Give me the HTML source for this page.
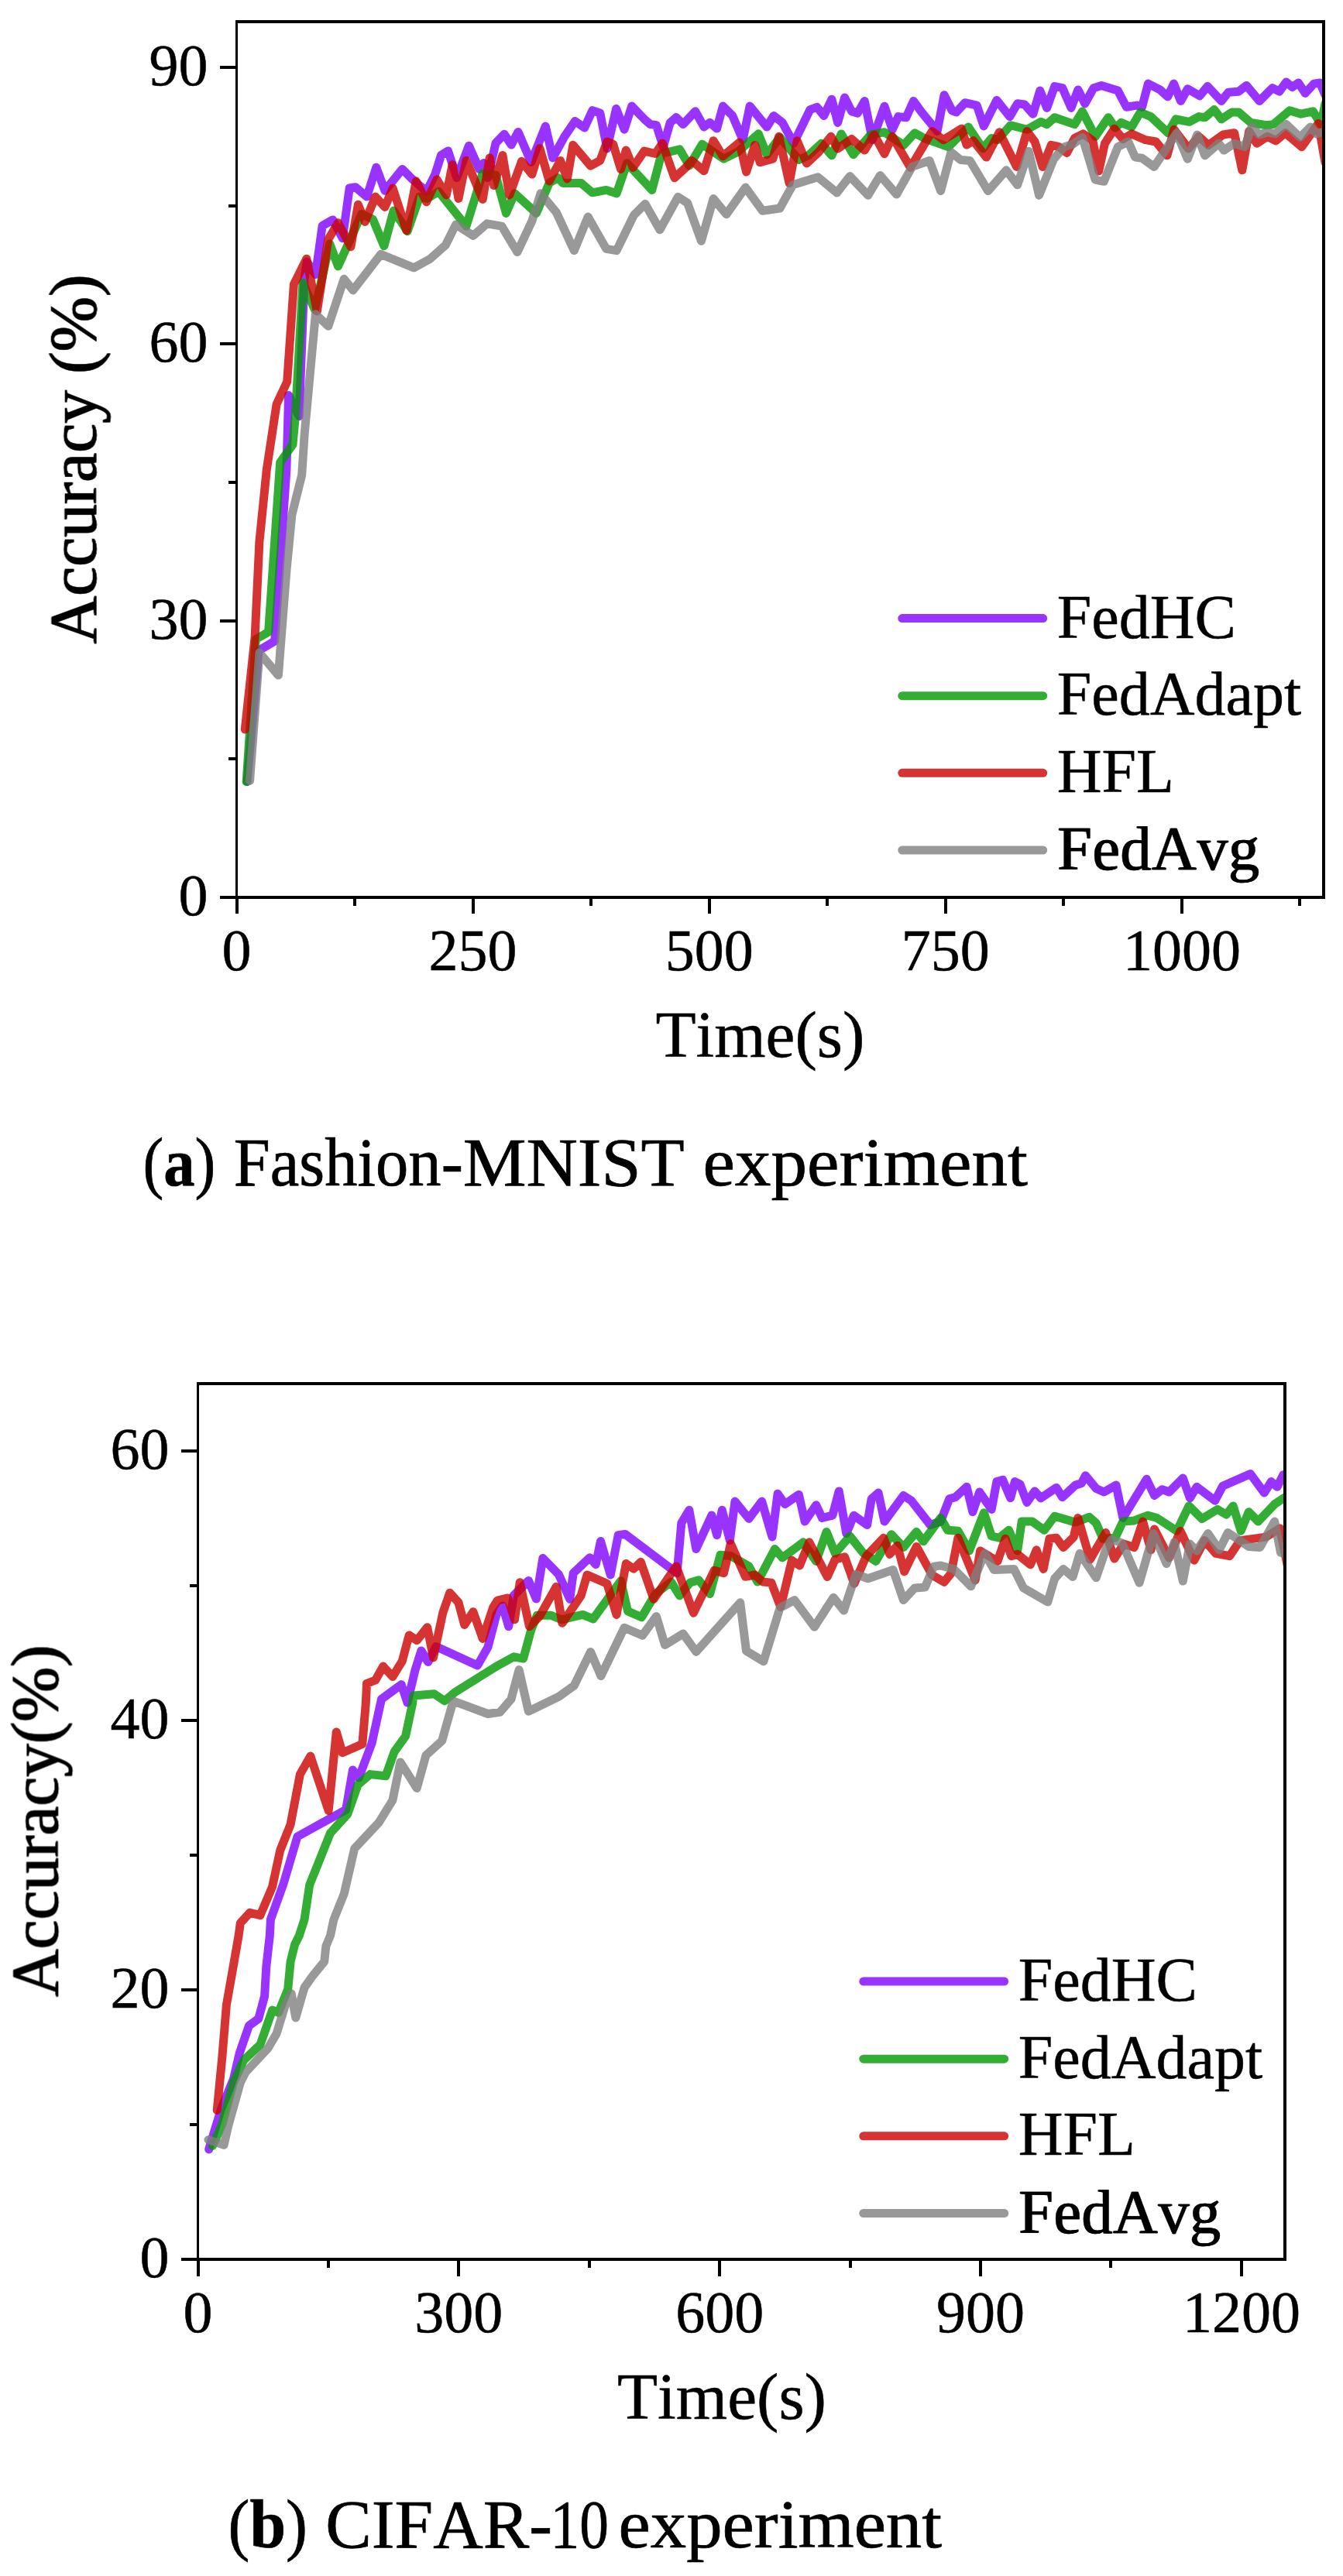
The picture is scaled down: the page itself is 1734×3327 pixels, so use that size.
<!DOCTYPE html>
<html lang="en"><head><meta charset="utf-8"><title>Accuracy over time</title>
<style>html,body{margin:0;padding:0;background:#fff}svg{display:block}text{font-family:"Liberation Serif",serif;fill:#000;font-kerning:none}.tk{font-size:76px;stroke:#000;stroke-width:.5px}.lg{font-size:80px;stroke:#000;stroke-width:.5px}.ax{font-size:85px;stroke:#000;stroke-width:.5px}.yl{font-size:87.5px;stroke:#000;stroke-width:.5px;filter:drop-shadow(1.8px 0 0 #000)}.lg.fb{filter:drop-shadow(1.7px 0 0 #000);letter-spacing:.6px}.cap{font-size:88px;stroke:#000;stroke-width:.7px}.ln{fill:none;stroke-width:11;stroke-linejoin:round;stroke-linecap:round;stroke-opacity:.8}.lgl{fill:none;stroke-width:11;stroke-linecap:round;stroke-opacity:.8}.fr{fill:none;stroke:#000;stroke-width:4}</style></head><body>
<svg width="1734" height="3327" viewBox="0 0 1734 3327">
<rect width="1734" height="3327" fill="#fff"/>
<defs><clipPath id="cp1"><rect x="305.5" y="28" width="1403.5" height="1131"/></clipPath></defs>
<g clip-path="url(#cp1)">
<polyline class="ln" stroke="#8000ff" points="319.1,1009.5 334.0,840.2 354.7,827.9 369.9,606.6 372.6,510.4 386.2,537.5 392.9,361.3 396.2,338.1 407.4,354.5 416.2,291.6 429.7,283.9 442.3,307.7 451.2,243.0 459.0,241.8 473.6,254.1 485.8,216.2 497.0,246.3 519.4,218.4 532.8,231.8 550.6,247.4 561.8,225.1 569.6,200.5 578.5,194.9 589.7,229.6 605.4,188.2 618.8,218.4 624.3,210.6 629.9,229.6 640.0,184.9 651.1,173.3 660.1,187.1 669.0,170.4 685.8,209.5 704.3,163.0 713.7,203.9 729.0,176.2 742.4,156.5 754.7,165.0 764.8,142.7 774.8,146.0 783.8,191.8 795.6,140.4 806.1,167.2 815.7,137.1 831.8,153.8 839.6,160.5 847.4,161.6 856.4,189.6 865.3,158.3 873.1,151.6 882.1,160.5 897.7,143.8 908.9,163.9 916.7,158.3 925.6,166.1 933.4,137.1 945.7,149.4 959.1,180.6 968.1,137.1 990.1,164.0 999.0,149.5 1010.2,158.4 1024.7,185.2 1045.9,141.6 1054.9,138.3 1063.8,149.5 1073.9,128.2 1081.7,158.4 1090.6,126.0 1099.6,143.9 1107.4,146.1 1116.3,130.5 1126.4,180.7 1142.0,137.2 1152.1,167.3 1159.9,150.6 1169.9,151.7 1179.5,130.5 1190.0,145.0 1210.1,169.6 1219.1,122.7 1229.1,142.8 1234.7,145.0 1245.9,132.7 1261.2,136.1 1270.2,162.9 1286.9,129.4 1303.7,150.6 1313.7,133.8 1322.7,134.9 1333.8,147.2 1342.8,117.1 1351.7,139.4 1361.7,111.5 1371.8,113.7 1383.0,139.4 1391.9,115.9 1400.8,133.8 1412.0,113.7 1422.1,110.4 1443.3,117.1 1454.4,138.3 1467.8,136.1 1474.5,138.3 1482.4,108.1 1497.7,115.9 1507.7,124.9 1515.5,108.1 1524.5,130.5 1533.4,114.8 1549.0,123.8 1559.1,111.5 1577.0,130.5 1585.9,119.3 1599.3,118.2 1609.4,110.4 1626.1,130.5 1642.9,113.7 1651.8,118.2 1660.7,105.9 1668.5,112.6 1676.4,107.0 1685.3,120.4 1696.5,108.1 1704.3,107.0 1711.0,122.7"/>
<polyline class="ln" stroke="#009900" points="318.2,1009.5 330.3,825.5 346.6,816.2 361.7,597.3 378.0,574.0 381.3,537.5 391.0,365.2 406.5,400.0 425.8,314.8 436.5,343.9 466.9,276.5 481.4,283.2 495.9,317.8 508.2,272.0 526.1,298.8 541.7,254.1 551.7,256.4 566.3,247.4 602.0,292.1 623.2,224.0 640.0,226.2 653.4,275.4 664.5,249.7 692.5,275.4 709.2,236.3 720.4,229.6 726.8,236.5 750.3,236.5 764.8,248.8 782.7,245.4 796.1,249.9 809.5,210.8 841.8,245.4 854.1,198.5 877.6,192.9 889.9,214.1 906.6,186.2 934.5,205.2 952.4,196.3 979.2,172.8 990.1,199.7 1006.9,177.4 1031.4,206.4 1043.7,200.8 1060.5,185.2 1073.9,200.8 1086.2,172.9 1101.8,199.7 1124.1,174.0 1142.0,170.7 1166.6,187.4 1181.1,171.8 1193.4,178.5 1224.7,189.7 1250.3,164.0 1269.0,191.9 1280.2,178.5 1288.0,180.7 1304.8,161.7 1326.0,167.3 1343.9,157.3 1351.7,160.6 1361.7,151.7 1387.4,160.6 1397.5,143.9 1414.2,176.3 1431.0,151.7 1439.9,165.1 1447.7,158.4 1461.1,164.0 1472.3,145.0 1485.7,150.6 1508.1,171.8 1518.1,153.9 1535.6,157.3 1547.9,150.6 1555.7,151.7 1567.6,141.6 1577.0,153.9 1590.4,145.0 1599.3,145.0 1614.9,158.4 1635.0,161.7 1644.0,160.6 1665.2,142.8 1679.7,147.2 1695.4,143.9 1705.4,160.6 1711.0,133.8"/>
<polyline class="ln" stroke="#cc0000" points="316.3,942.0 329.1,823.2 334.9,699.8 344.3,606.6 357.1,522.0 370.7,493.0 379.4,367.1 395.8,334.2 409.4,402.0 423.9,309.0 436.5,287.7 452.9,318.7 462.4,264.2 471.3,286.5 484.7,254.1 497.0,267.5 507.1,243.0 524.9,297.7 537.2,234.0 550.6,260.8 564.0,231.8 576.3,251.9 584.1,212.8 592.0,256.4 602.0,207.2 623.2,257.5 632.2,203.9 637.7,239.6 648.9,200.5 657.8,251.9 673.5,208.3 686.9,225.1 696.9,191.6 709.2,234.0 723.5,207.4 732.4,230.9 739.8,187.3 762.5,214.1 774.8,207.4 783.8,182.9 791.6,186.2 801.6,218.6 808.3,194.0 817.3,216.4 831.8,195.1 846.3,198.5 855.2,185.1 870.9,229.8 885.4,216.4 893.2,207.4 908.9,220.8 921.1,181.7 933.4,201.8 954.7,184.0 963.6,222.0 974.7,187.4 981.2,209.8 997.9,205.3 1005.7,176.3 1019.1,236.6 1029.2,181.8 1041.5,210.9 1057.1,196.4 1072.8,176.3 1081.7,191.9 1099.6,179.6 1116.3,194.1 1128.6,174.0 1142.0,198.6 1152.1,176.3 1175.5,216.5 1203.4,169.6 1218.0,180.7 1241.4,166.2 1248.1,187.0 1256.8,181.8 1273.5,203.1 1290.3,170.7 1312.6,215.4 1326.0,169.6 1336.1,183.0 1346.1,215.4 1357.3,187.4 1367.3,189.7 1377.4,197.5 1387.4,178.5 1398.6,172.9 1410.9,181.8 1418.7,220.9 1426.5,185.2 1438.8,166.2 1450.0,179.6 1461.1,172.9 1479.0,180.7 1492.4,183.0 1506.9,200.8 1515.9,167.3 1534.5,191.9 1547.9,176.3 1560.2,187.4 1579.2,174.0 1593.7,171.8 1603.8,219.8 1612.7,169.6 1622.8,185.2 1636.2,176.3 1647.3,181.8 1659.6,171.8 1680.8,189.7 1702.1,159.5 1711.0,209.8"/>
<polyline class="ln" stroke="#808080" points="322.6,1008.4 334.9,843.0 359.4,872.1 369.9,737.0 376.9,664.8 389.7,613.6 393.2,560.0 407.4,405.8 423.9,421.3 444.2,360.3 455.8,374.9 491.7,328.4 534.3,345.8 555.1,334.5 575.2,316.7 588.6,289.9 610.9,304.4 628.8,288.8 647.8,292.1 667.9,325.6 686.9,285.4 698.1,249.7 718.2,274.2 741.3,323.6 759.2,280.0 782.7,321.4 796.1,323.6 818.4,277.8 832.9,263.3 851.9,296.8 875.4,254.3 887.6,262.2 905.5,311.3 921.1,256.6 937.9,276.7 962.5,242.1 984.5,272.3 1006.9,269.0 1023.6,238.8 1056.0,228.8 1080.6,248.9 1097.3,227.6 1120.8,252.2 1136.4,226.5 1157.6,251.1 1177.7,215.4 1200.1,207.5 1214.6,246.6 1228.0,196.4 1240.3,206.4 1252.3,207.5 1275.7,246.6 1299.2,219.8 1313.7,238.8 1328.2,195.2 1341.6,252.2 1360.6,205.3 1374.0,189.7 1385.2,186.3 1397.5,177.4 1414.2,232.1 1425.4,234.3 1443.3,189.7 1456.7,183.0 1465.6,203.1 1474.5,204.2 1490.2,215.4 1519.2,171.8 1533.4,205.3 1545.7,174.0 1555.7,200.8 1573.6,185.2 1580.3,194.1 1593.7,185.2 1607.1,189.7 1616.1,164.0 1626.1,174.0 1636.2,170.7 1646.2,172.9 1660.7,160.6 1678.6,177.4 1692.0,164.0 1699.8,172.9 1711.0,169.6"/>
</g>
<path fill="#000" d="M304,26H307V1161H304ZM1707,26H1711V1161H1707ZM304,26H1711V30H304ZM304,1157H1711V1161H304ZM304,1157H308V1180H304ZM609,1157H613V1180H609ZM914,1157H918V1180H914ZM1219,1157H1223V1180H1219ZM1524,1157H1528V1180H1524ZM456,1157H460V1170H456ZM761,1157H765V1170H761ZM1066,1157H1070V1170H1066ZM1371,1157H1375V1170H1371ZM1676,1157H1680V1170H1676ZM284,1157H307V1161H284ZM284,800H307V804H284ZM284,442H307V446H284ZM284,85H307V89H284ZM295,978H307V982H295ZM295,621H307V625H295ZM295,264H307V268H295Z"/>
<text class="tk" text-anchor="middle" x="305.5" y="1252.8">0</text>
<text class="tk" text-anchor="middle" x="610.6" y="1252.8">250</text>
<text class="tk" text-anchor="middle" x="915.7" y="1252.8">500</text>
<text class="tk" text-anchor="middle" x="1220.8" y="1252.8">750</text>
<text class="tk" text-anchor="middle" x="1525.9" y="1252.8">1000</text>
<text class="tk" text-anchor="end" x="268.5" y="1182.0">0</text>
<text class="tk" text-anchor="end" x="268.5" y="824.7">30</text>
<text class="tk" text-anchor="end" x="268.5" y="467.3">60</text>
<text class="tk" text-anchor="end" x="268.5" y="110.0">90</text>
<text class="ax" x="846.4" y="1365.3" textLength="270.0000000000001" lengthAdjust="spacingAndGlyphs">Time(s)</text>
<text class="yl" transform="translate(123.7,832) rotate(-90)" textLength="477" lengthAdjust="spacingAndGlyphs">Accuracy (%)</text>
<line class="lgl" stroke="#8000ff" x1="1164.8" y1="798.6" x2="1346.7" y2="798.6"/>
<text class="lg" x="1364.8" y="823.6">FedHC</text>
<line class="lgl" stroke="#009900" x1="1164.8" y1="898.7" x2="1346.7" y2="898.7"/>
<text class="lg" x="1364.8" y="923.3">FedAdapt</text>
<line class="lgl" stroke="#cc0000" x1="1164.8" y1="998.3" x2="1346.7" y2="998.3"/>
<text class="lg" x="1364.8" y="1022.9">HFL</text>
<line class="lgl" stroke="#808080" x1="1164.8" y1="1098.0" x2="1346.7" y2="1098.0"/>
<text class="lg fb" x="1364.8" y="1123.4">FedAvg</text>
<defs><clipPath id="cp2"><rect x="255.5" y="1787" width="1403.5" height="1131"/></clipPath></defs>
<g clip-path="url(#cp2)">
<polyline class="ln" stroke="#8000ff" points="269.7,2775.9 285.7,2723.4 301.4,2685.4 309.2,2651.9 321.5,2616.2 333.8,2607.2 341.6,2578.2 343.8,2540.2 348.3,2500.0 349.4,2479.2 366.2,2432.3 384.0,2372.0 446.6,2337.4 455.5,2286.0 463.3,2296.1 480.1,2251.4 492.5,2194.5 518.2,2175.6 526.0,2199.0 536.1,2156.6 543.9,2132.0 552.8,2146.5 562.9,2126.4 616.5,2151.0 629.9,2127.5 641.0,2085.1 648.9,2073.9 656.7,2100.7 663.4,2060.5 682.4,2041.5 692.4,2065.0 700.9,2012.5 721.5,2033.7 735.7,2065.3 740.2,2031.8 761.4,2011.7 769.2,2020.6 775.5,1990.5 788.2,2034.0 798.2,1982.7 807.2,1981.5 874.2,2031.8 879.8,1967.0 889.8,1950.3 898.8,2000.5 918.9,1957.0 925.6,1982.7 932.3,1950.3 942.3,1989.4 949.0,1939.1 966.9,1961.4 983.6,1939.1 997.0,1984.9 1004.1,1929.2 1013.5,1942.7 1031.4,1930.4 1039.2,1965.0 1053.7,1943.8 1061.5,1960.5 1074.9,1957.2 1083.2,1925.9 1092.8,1980.6 1102.4,1957.2 1119.6,1969.5 1125.2,1935.9 1134.1,1928.1 1142.0,1965.0 1166.5,1931.5 1176.6,1938.2 1201.1,1969.5 1214.5,1965.0 1225.7,1935.9 1233.5,1933.7 1248.1,1920.3 1255.9,1952.7 1264.7,1927.0 1280.2,1949.4 1286.9,1913.6 1294.7,1911.4 1304.7,1934.8 1310.3,1913.6 1317.0,1917.0 1325.9,1940.4 1336.0,1925.9 1343.8,1934.8 1363.9,1921.4 1371.7,1933.7 1388.5,1918.1 1396.3,1915.8 1401.5,1905.8 1415.3,1922.5 1425.4,1927.0 1441.0,1918.1 1449.9,1960.5 1480.4,1910.3 1490.5,1931.5 1500.5,1923.7 1509.5,1927.0 1527.3,1909.1 1536.3,1934.8 1545.2,1920.3 1568.7,1938.2 1578.7,1919.2 1614.4,1903.6 1632.3,1928.1 1641.3,1913.6 1649.1,1920.3 1656.9,1904.7 1662.5,1911.4"/>
<polyline class="ln" stroke="#009900" points="274.6,2771.4 286.9,2743.5 301.4,2689.9 314.8,2660.8 336.0,2640.7 351.6,2596.1 359.5,2599.4 371.7,2569.2 375.1,2533.5 380.7,2511.2 386.3,2500.0 393.0,2479.2 399.7,2434.5 426.5,2367.5 448.8,2343.0 462.2,2305.0 477.8,2291.6 498.0,2293.8 509.1,2262.5 523.6,2242.4 532.6,2200.0 533.8,2190.1 560.6,2187.8 574.0,2196.8 587.4,2185.6 641.0,2152.1 663.4,2139.8 675.7,2142.1 685.7,2105.2 693.5,2086.2 711.4,2086.2 724.8,2091.8 752.4,2085.4 765.8,2091.0 801.6,2041.8 810.5,2080.9 828.4,2088.8 846.3,2058.6 866.4,2043.0 877.5,2060.8 890.9,2044.1 902.1,2040.7 916.6,2058.6 930.0,2008.3 943.4,2009.5 966.9,2022.9 978.1,2043.0 1000.4,2000.5 1010.2,2011.9 1037.0,1991.8 1053.7,2016.4 1067.1,1978.4 1078.3,2006.3 1097.3,1984.0 1114.0,2005.2 1130.8,2016.4 1138.6,2003.0 1150.9,1981.7 1166.5,1998.5 1183.3,1978.4 1192.2,1990.7 1214.5,1960.5 1223.5,1976.2 1236.9,1977.3 1251.4,2003.0 1270.4,1953.8 1280.2,1984.0 1290.2,1986.2 1302.5,1976.2 1313.7,2003.0 1319.2,1965.0 1332.7,1965.0 1348.3,1976.2 1361.7,1958.3 1388.5,1966.1 1406.4,1959.4 1415.3,1967.2 1424.2,1987.3 1439.9,1986.2 1449.9,1965.0 1464.4,1963.9 1482.3,1957.2 1493.8,1960.5 1519.5,1977.3 1535.1,1944.9 1551.9,1961.6 1572.0,1949.4 1583.2,1956.1 1592.1,1944.9 1602.2,1977.3 1612.2,1952.7 1624.5,1965.0 1645.7,1942.7 1662.5,1931.5"/>
<polyline class="ln" stroke="#cc0000" points="280.2,2725.6 286.9,2656.4 292.4,2589.4 300.3,2544.7 308.1,2500.0 310.3,2483.7 322.6,2470.3 336.0,2473.6 351.6,2436.8 361.7,2389.9 375.1,2356.4 387.4,2291.6 400.8,2268.1 424.2,2338.5 434.3,2236.9 442.1,2263.7 467.8,2252.5 472.3,2200.0 473.5,2174.4 484.7,2170.0 494.7,2152.1 507.0,2165.5 519.3,2145.4 528.2,2111.9 538.3,2118.6 551.7,2101.8 559.5,2140.9 571.8,2082.9 580.7,2057.2 591.9,2069.5 599.7,2098.5 610.9,2081.7 623.2,2116.4 636.6,2076.2 642.2,2067.2 655.6,2063.9 664.5,2091.8 671.2,2043.8 683.5,2100.7 696.9,2087.3 718.1,2049.4 725.9,2096.3 750.2,2060.8 758.0,2034.0 783.7,2045.2 796.0,2085.4 808.3,2019.5 818.3,2026.2 827.3,2017.3 844.0,2065.3 873.1,2022.9 895.4,2083.2 922.2,2028.4 934.5,2031.8 943.4,1993.8 962.4,2036.3 974.7,2034.0 984.8,2043.0 995.9,2044.1 1007.9,2075.6 1022.4,2015.2 1032.5,2022.0 1044.8,1991.8 1068.2,2036.5 1078.3,2014.1 1090.6,2010.8 1102.9,2045.4 1118.5,2009.7 1140.8,1986.2 1148.7,2007.4 1158.7,1996.3 1167.6,2029.8 1183.3,1997.4 1203.4,2034.2 1219.0,2043.2 1228.0,2032.0 1236.9,1986.2 1259.2,2040.9 1265.6,2003.0 1288.0,2016.4 1298.0,1987.3 1305.8,2009.7 1313.7,2007.4 1330.4,2020.8 1338.2,2001.8 1347.2,2026.4 1355.0,1987.3 1363.9,1986.2 1372.9,1998.5 1386.3,1985.1 1391.8,1960.5 1407.5,2014.1 1427.6,1979.5 1438.8,2013.0 1451.0,1994.0 1464.4,1998.5 1475.6,1965.0 1486.0,2001.8 1490.5,1975.0 1509.5,2011.9 1524.0,1977.3 1541.8,2015.2 1555.2,1989.6 1569.8,2006.3 1587.6,2009.7 1601.0,1989.6 1634.5,1985.1 1652.4,1973.9 1662.5,2023.1"/>
<polyline class="ln" stroke="#808080" points="269.0,2763.6 289.1,2770.3 294.7,2745.7 310.3,2689.9 317.0,2676.5 346.1,2645.2 357.2,2626.2 368.4,2589.4 376.2,2574.8 381.8,2606.1 393.0,2567.0 404.1,2551.4 418.7,2533.5 420.9,2513.4 426.5,2500.0 430.9,2479.2 444.3,2445.7 457.7,2387.6 489.0,2354.1 506.9,2325.1 516.9,2275.9 538.2,2309.5 550.0,2267.0 570.7,2248.2 585.2,2196.8 629.9,2213.5 645.5,2211.3 660.0,2194.5 670.1,2156.6 682.4,2210.2 721.5,2191.2 741.3,2177.0 762.5,2133.4 775.9,2164.7 806.1,2102.2 829.5,2112.2 847.4,2087.6 858.5,2124.5 882.0,2110.0 898.8,2133.4 955.7,2069.8 963.5,2132.3 985.9,2145.7 1007.1,2076.5 1025.8,2066.6 1051.5,2101.3 1076.1,2063.3 1089.5,2080.0 1105.1,2033.1 1120.7,2038.7 1153.1,2027.5 1166.5,2066.6 1181.0,2051.0 1194.4,2049.9 1205.6,2023.1 1214.5,2022.0 1231.3,2026.4 1253.6,2048.8 1271.5,2006.3 1283.5,2027.5 1309.2,2026.4 1321.5,2051.0 1352.8,2068.9 1361.7,2038.7 1372.9,2026.4 1385.1,2036.5 1394.1,2006.3 1415.3,2037.6 1428.7,1998.5 1435.4,1988.4 1448.8,1992.9 1471.1,2044.3 1489.4,1980.6 1506.1,2019.7 1516.2,1991.8 1527.3,2042.1 1536.3,1994.0 1545.2,2003.0 1559.7,1980.6 1574.2,2001.8 1585.4,1979.5 1612.2,1997.4 1626.7,1998.5 1645.7,1965.0 1653.5,2005.2 1662.5,2008.5"/>
</g>
<path fill="#000" d="M254,1785H257V2920H254ZM1657,1785H1661V2920H1657ZM254,1785H1661V1789H254ZM254,2916H1661V2920H254ZM254,2916H258V2940H254ZM590,2916H594V2940H590ZM927,2916H931V2940H927ZM1264,2916H1268V2940H1264ZM1601,2916H1605V2940H1601ZM422,2916H426V2929H422ZM759,2916H763V2929H759ZM1096,2916H1100V2929H1096ZM1432,2916H1436V2929H1432ZM234,2916H257V2920H234ZM234,2568H257V2572H234ZM234,2220H257V2224H234ZM234,1872H257V1876H234ZM245,2742H257V2746H245ZM245,2394H257V2398H245ZM245,2046H257V2050H245Z"/>
<text class="tk" text-anchor="middle" x="255.5" y="3011.8">0</text>
<text class="tk" text-anchor="middle" x="592.3" y="3011.8">300</text>
<text class="tk" text-anchor="middle" x="929.2" y="3011.8">600</text>
<text class="tk" text-anchor="middle" x="1266.0" y="3011.8">900</text>
<text class="tk" text-anchor="middle" x="1602.9" y="3011.8">1200</text>
<text class="tk" text-anchor="end" x="218.5" y="2941.0">0</text>
<text class="tk" text-anchor="end" x="218.5" y="2593.0">20</text>
<text class="tk" text-anchor="end" x="218.5" y="2245.0">40</text>
<text class="tk" text-anchor="end" x="218.5" y="1897.0">60</text>
<text class="ax" x="797" y="3124.3" textLength="270" lengthAdjust="spacingAndGlyphs">Time(s)</text>
<text class="yl" transform="translate(74.4,2579.4) rotate(-90)" textLength="454.5" lengthAdjust="spacingAndGlyphs">Accuracy(%)</text>
<line class="lgl" stroke="#8000ff" x1="1114.8" y1="2559.1" x2="1296.7" y2="2559.1"/>
<text class="lg" x="1314.8" y="2584.1">FedHC</text>
<line class="lgl" stroke="#009900" x1="1114.8" y1="2659.2" x2="1296.7" y2="2659.2"/>
<text class="lg" x="1314.8" y="2683.8">FedAdapt</text>
<line class="lgl" stroke="#cc0000" x1="1114.8" y1="2758.8" x2="1296.7" y2="2758.8"/>
<text class="lg" x="1314.8" y="2783.4">HFL</text>
<line class="lgl" stroke="#808080" x1="1114.8" y1="2858.5" x2="1296.7" y2="2858.5"/>
<text class="lg fb" x="1314.8" y="2883.9">FedAvg</text>
<text class="cap" y="1531"><tspan x="184.4" textLength="93.9" lengthAdjust="spacingAndGlyphs">(<tspan font-weight="bold">a</tspan>)</tspan> <tspan x="301.8" textLength="296" lengthAdjust="spacingAndGlyphs">Fashion-</tspan><tspan x="597.7" textLength="286" lengthAdjust="spacingAndGlyphs">MNIST</tspan> <tspan x="907.4" textLength="419.6" lengthAdjust="spacingAndGlyphs">experiment</tspan></text>
<text class="cap" y="3289.5"><tspan x="294.5" textLength="102.4" lengthAdjust="spacingAndGlyphs">(<tspan font-weight="bold">b</tspan>)</tspan> <tspan x="420.3" textLength="292.7" lengthAdjust="spacingAndGlyphs">CIFAR-</tspan><tspan x="710.5" textLength="75.4" lengthAdjust="spacingAndGlyphs">10</tspan> <tspan x="798.6" textLength="417.4" lengthAdjust="spacingAndGlyphs">experiment</tspan></text>
</svg></body></html>
